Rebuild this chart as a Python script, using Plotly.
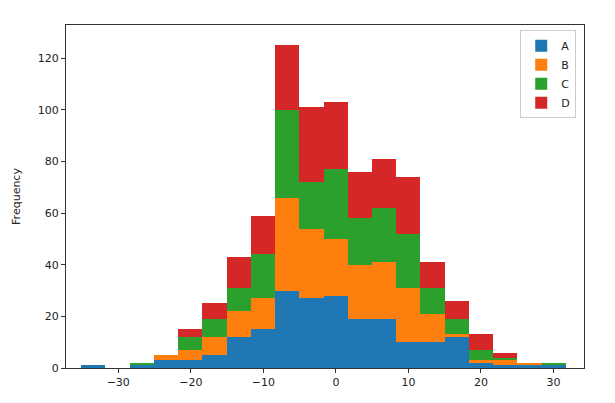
import plotly.graph_objects as go

bin_start = -35.1
bin_width = 3.34
A = [1,0,1,3,3,5,12,15,30,27,28,19,19,10,10,12,2,1,1,1]
B = [0,0,0,2,4,7,10,12,36,27,22,21,22,21,11,1,1,2,1,0]
C = [0,0,1,0,5,7,9,17,34,18,27,18,21,21,10,6,4,1,0,1]
D = [0,0,0,0,3,6,12,15,25,29,26,18,19,22,10,7,6,2,0,0]
names = ["A", "B", "C", "D"]
colors = ["#1f77b4", "#ff7f0e", "#2ca02c", "#d62728"]

centers = [bin_start + bin_width * (i + 0.5) for i in range(len(A))]
fig = go.Figure()
for n, vals, c in zip(names, [A, B, C, D], colors):
    fig.add_trace(go.Bar(x=centers, y=vals, name=n, width=bin_width,
                         marker=dict(color=c, line=dict(width=0))))

axis = dict(showline=True, linecolor="#333", linewidth=1, mirror=True, automargin=False,
            ticks="outside", ticklen=4, tickcolor="#333", showgrid=False, zeroline=False)
fig.update_layout(
    width=615, height=403, barmode="stack", bargap=0,
    plot_bgcolor="white", paper_bgcolor="white",
    margin=dict(l=58, r=39, t=17, b=43),
    font=dict(family="DejaVu Sans", size=11, color="#222"),
    xaxis=dict(range=[-37.2, 34.2], tickvals=[-30, -20, -10, 0, 10, 20, 30],
               ticktext=["−30", "−20", "−10", "0", "10", "20", "30"], **axis),
    yaxis=dict(range=[0, 132.8], tickvals=[0, 20, 40, 60, 80, 100, 120],
               title=dict(text="Frequency", standoff=14, font=dict(size=11)), **axis),
    legend=dict(x=0.985, y=0.985, xanchor="right", yanchor="top",
                bordercolor="#ccc", borderwidth=1, bgcolor="white", traceorder="normal"),
)
fig.write_html("out.html")
